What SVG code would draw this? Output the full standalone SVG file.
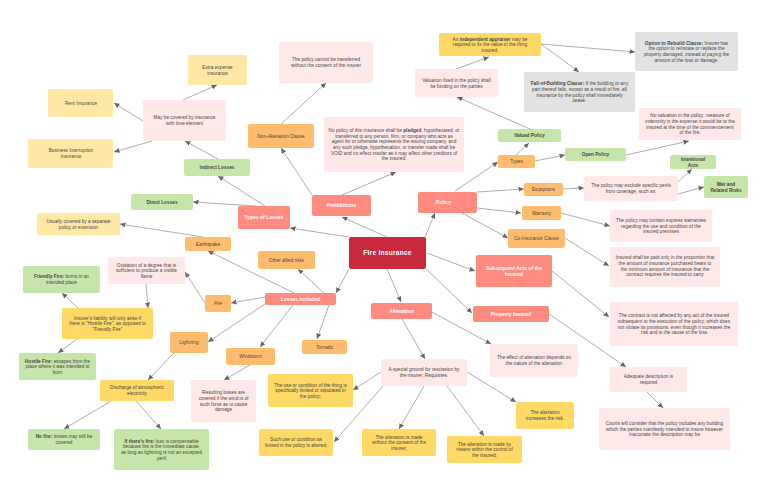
<svg xmlns="http://www.w3.org/2000/svg" width="768" height="502" viewBox="0 0 768 502">
<style>
text{font-family:"Liberation Sans",Arial,sans-serif;font-size:4.7px;fill:#444;text-anchor:middle;letter-spacing:.03px}
.b{font-weight:700}
rect{rx:2px;ry:2px}
.root{fill:#c8293c}.l1{fill:#ff8a80}.or{fill:#ffbc6e}.ye{fill:#ffd966}.py{fill:#ffe8a6}.pk{fill:#ffe8e8}.gr{fill:#c5e6a8}.gy{fill:#e2e2e2}
.w text,text.w{fill:#fff;font-weight:700;font-size:5px}
#connectors line{stroke:#777;stroke-width:.6}
</style>
<defs><marker id="a" markerUnits="userSpaceOnUse" markerWidth="7" markerHeight="6" refX="5.5" refY="2.5" orient="auto"><path d="M0 0L5.5 2.5L0 5z" fill="#666"/></marker></defs>
<rect width="768" height="502" fill="#fff" style="rx:0"/>
<g id="connectors" marker-end="url(#a)">
<line x1="387" y1="237" x2="342" y2="217"/>
<line x1="349" y1="237" x2="290" y2="228"/>
<line x1="425" y1="237" x2="435" y2="213"/>
<line x1="427" y1="253" x2="475" y2="271"/>
<line x1="426" y1="269" x2="472" y2="313"/>
<line x1="387" y1="269" x2="401" y2="302"/>
<line x1="349" y1="269" x2="336" y2="293"/>
<line x1="265" y1="206" x2="218" y2="176"/>
<line x1="256" y1="206" x2="193" y2="202"/>
<line x1="218" y1="159" x2="185" y2="141"/>
<line x1="183" y1="100" x2="217" y2="85"/>
<line x1="143" y1="121" x2="114" y2="103"/>
<line x1="152" y1="141" x2="114" y2="152"/>
<line x1="312" y1="195" x2="281" y2="148"/>
<line x1="281" y1="124" x2="326" y2="83"/>
<line x1="342" y1="195" x2="396" y2="172"/>
<line x1="455" y1="191" x2="498" y2="162"/>
<line x1="516" y1="155" x2="529" y2="143"/>
<line x1="530" y1="129" x2="457" y2="97"/>
<line x1="456" y1="69" x2="489" y2="57"/>
<line x1="541" y1="44" x2="635" y2="52"/>
<line x1="541" y1="44" x2="579" y2="72"/>
<line x1="535" y1="161" x2="565" y2="155"/>
<line x1="626" y1="155" x2="689" y2="141"/>
<line x1="477" y1="192" x2="524" y2="189"/>
<line x1="563" y1="189" x2="584" y2="188"/>
<line x1="678" y1="182" x2="692" y2="169"/>
<line x1="678" y1="194" x2="704" y2="187"/>
<line x1="477" y1="208" x2="521" y2="213"/>
<line x1="561" y1="213" x2="610" y2="226"/>
<line x1="462" y1="213" x2="508" y2="238"/>
<line x1="565" y1="238" x2="609" y2="266"/>
<line x1="552" y1="271" x2="609" y2="317"/>
<line x1="549" y1="314" x2="626" y2="367"/>
<line x1="647" y1="392" x2="663" y2="408"/>
<line x1="432" y1="312" x2="491" y2="344"/>
<line x1="402" y1="319" x2="425" y2="359"/>
<line x1="381" y1="372" x2="353" y2="390"/>
<line x1="383" y1="386" x2="334" y2="442"/>
<line x1="424" y1="386" x2="399" y2="429"/>
<line x1="447" y1="386" x2="484" y2="436"/>
<line x1="467" y1="372" x2="516" y2="402"/>
<line x1="324" y1="293" x2="298" y2="269"/>
<line x1="329" y1="305" x2="317" y2="339"/>
<line x1="293" y1="305" x2="260" y2="347"/>
<line x1="265" y1="304" x2="208" y2="342"/>
<line x1="265" y1="297" x2="231" y2="303"/>
<line x1="294" y1="293" x2="208" y2="251"/>
<line x1="205" y1="303" x2="185" y2="272"/>
<line x1="146" y1="284" x2="148" y2="308"/>
<line x1="203" y1="237" x2="120" y2="224"/>
<line x1="78" y1="308" x2="62" y2="293"/>
<line x1="77" y1="339" x2="58" y2="353"/>
<line x1="174" y1="353" x2="148" y2="380"/>
<line x1="111" y1="401" x2="64" y2="429"/>
<line x1="136" y1="401" x2="161" y2="429"/>
<line x1="250" y1="365" x2="224" y2="380"/>
</g>
<g id="fire-insurance"><rect class="root" x="349" y="237" width="77" height="32"/><text class="w" style="font-size:6.6px;letter-spacing:.25px" x="387.5" y="255.3">Fire Insurance</text></g>
<g id="prohibitions" class="w"><rect class="l1" x="312" y="195" width="59" height="21"/><text x="341.5" y="207.2">Prohibitions</text></g>
<g id="types-of-losses" class="w"><rect class="l1" x="238" y="206" width="52" height="23"/><text x="264" y="219.2">Types of Losses</text></g>
<g id="policy" class="w"><rect class="l1" x="418" y="192" width="59" height="21"/><text x="443.5" y="203.7">Policy</text></g>
<g id="subsequent" class="w"><rect class="l1" x="476" y="255" width="76" height="32"/><text x="514" y="269.8">Subsequent Acts of the<tspan x="514" dy="5.7">Insured</tspan></text></g>
<g id="property" class="w"><rect class="l1" x="473" y="306" width="76" height="16"/><text x="511" y="315.7">Property Insured</text></g>
<g id="alienation" class="w"><rect class="l1" x="371" y="303" width="61" height="16"/><text x="401.5" y="312.7">Alienation</text></g>
<g id="losses-included" class="w"><rect class="l1" x="265" y="293" width="71" height="12"/><text x="300.5" y="300.7">Losses Included</text></g>

<g id="non-alienation"><rect class="or" x="248" y="124" width="66" height="24"/><text x="281" y="137.7">Non-Alienation Clause</text></g>
<g id="types"><rect class="or" x="498" y="155" width="37" height="13"/><text x="516.5" y="163.2">Types</text></g>
<g id="exceptions"><rect class="or" x="524" y="183" width="39" height="13"/><text x="543.5" y="191.2">Exceptions</text></g>
<g id="warranty"><rect class="or" x="522" y="206" width="39" height="14"/><text x="541.5" y="214.7">Warranty</text></g>
<g id="co-insurance"><rect class="or" x="508" y="229" width="57" height="19"/><text x="536.5" y="240.2">Co-Insurance Clause</text></g>
<g id="earthquake"><rect class="or" x="185" y="237" width="46" height="14"/><text x="208" y="245.7">Earthquake</text></g>
<g id="other-allied"><rect class="or" x="258" y="251" width="57" height="18"/><text x="286.5" y="261.7">Other allied risks</text></g>
<g id="fire"><rect class="or" x="205" y="295" width="26" height="17"/><text x="218" y="305.2">Fire</text></g>
<g id="lightning"><rect class="or" x="170" y="332" width="38" height="21"/><text x="189" y="344.2">Lightning</text></g>
<g id="windstorm"><rect class="or" x="226" y="348" width="49" height="17"/><text x="250.5" y="358.2">Windstorm</text></g>
<g id="tornado"><rect class="or" x="302" y="340" width="45" height="14"/><text x="324.5" y="348.7">Tornado</text></g>

<g id="extra-expense"><rect class="py" x="188" y="55" width="59" height="30"/><text x="217.5" y="68.8">Extra expense<tspan x="217.5" dy="5.7">insurance</tspan></text></g>
<g id="rent"><rect class="py" x="48" y="89" width="65" height="28"/><text x="81" y="104.7">Rent Insurance</text></g>
<g id="business"><rect class="py" x="28" y="139" width="85" height="29"/><text x="71" y="152.3">Business Interruption<tspan x="71" dy="5.7">Insurance</tspan></text></g>
<g id="usually"><rect class="py" x="37" y="213" width="83" height="22"/><text x="78.5" y="222.8">Usually covered by a separate<tspan x="78.5" dy="5.7">policy or extension</tspan></text></g>

<g id="may-be-covered"><rect class="pk" x="143" y="100" width="83" height="41"/><text x="184.5" y="119.3">May be covered by insurance<tspan x="184.5" dy="5.7">with time element</tspan></text></g>
<g id="cannot-transfer"><rect class="pk" x="279" y="42" width="94" height="41"/><text x="326" y="61.3">The policy cannot be transferred<tspan x="326" dy="5.7">without the consent of the insurer</tspan></text></g>
<g id="no-policy"><rect class="pk" x="324" y="117" width="140" height="55"/><text x="394" y="131.9">No policy of this insurance shall be <tspan class="b">pledged</tspan>, hypothecated, or<tspan x="394" dy="5.7">transferred to any person, firm, or company who acts as</tspan><tspan x="394" dy="5.7">agent for or otherwise represents the issuing company, and</tspan><tspan x="394" dy="5.7">any such pledge, hypothecation, or transfer made shall be</tspan><tspan x="394" dy="5.7">VOID and no effect insofar as it may affect other creditors of</tspan><tspan x="394" dy="5.7">the insured.</tspan></text></g>
<g id="valuation"><rect class="pk" x="415" y="69" width="83" height="28"/><text x="456.5" y="81.8">Valuation fixed in the policy shall<tspan x="456.5" dy="5.7">be binding on the parties</tspan></text></g>
<g id="no-valuation"><rect class="pk" x="639" y="108" width="102" height="32"/><text x="690" y="117.1">No valuation in the policy; measure of<tspan x="690" dy="5.7">indemnity is the expense it would be to the</tspan><tspan x="690" dy="5.7">insured at the time of the commencement</tspan><tspan x="690" dy="5.7">of the fire.</tspan></text></g>
<g id="may-exclude"><rect class="pk" x="584" y="176" width="94" height="25"/><text x="631" y="187.3">The policy may exclude specific perils<tspan x="631" dy="5.7">from coverage, such as:</tspan></text></g>
<g id="warranties"><rect class="pk" x="610" y="210" width="102" height="32"/><text x="661" y="221.9">The policy may contain express warranties<tspan x="661" dy="5.7">regarding the use and condition of the</tspan><tspan x="661" dy="5.7">insured premises</tspan></text></g>
<g id="insured-paid"><rect class="pk" x="610" y="247" width="110" height="40"/><text x="665" y="259.1">Insured shall be paid only in the proportion that<tspan x="665" dy="5.7">the amount of insurance purchased bears to</tspan><tspan x="665" dy="5.7">the minimum amount of insurance that the</tspan><tspan x="665" dy="5.7">contract requires the insured to carry</tspan></text></g>
<g id="contract"><rect class="pk" x="610" y="302" width="128" height="44"/><text x="674" y="317.1">The contract is not affected by any act of the insured<tspan x="674" dy="5.7">subsequent to the execution of the policy, which does</tspan><tspan x="674" dy="5.7">not violate its provisions, even though it increases the</tspan><tspan x="674" dy="5.7">risk and is the cause of the loss</tspan></text></g>
<g id="adequate"><rect class="pk" x="610" y="367" width="77" height="25"/><text x="648.5" y="378.3">Adequate description is<tspan x="648.5" dy="5.7">required</tspan></text></g>
<g id="courts"><rect class="pk" x="599" y="408" width="131" height="42"/><text x="664.5" y="425">Courts will consider that the policy includes any building<tspan x="664.5" dy="5.7">which the parties manifestly intended to insure however</tspan><tspan x="664.5" dy="5.7">inaccurate the description may be</tspan></text></g>
<g id="effect"><rect class="pk" x="490" y="344" width="88" height="33"/><text x="534" y="359.3">The effect of alienation depends on<tspan x="534" dy="5.7">the nature of the alienation</tspan></text></g>
<g id="special-ground"><rect class="pk" x="381" y="359" width="86" height="27"/><text x="424" y="371.3">A special ground for rescission by<tspan x="424" dy="5.7">the insurer; Requisites:</tspan></text></g>
<g id="oxidation"><rect class="pk" x="108" y="257" width="77" height="27"/><text x="146.5" y="266.5">Oxidation of a degree that is<tspan x="146.5" dy="5.7">sufficient to produce a visible</tspan><tspan x="146.5" dy="5.7">flame</tspan></text></g>
<g id="resulting"><rect class="pk" x="191" y="380" width="65" height="42"/><text x="223.5" y="394.1">Resulting losses are<tspan x="223.5" dy="5.7">covered if the wind is of</tspan><tspan x="223.5" dy="5.7">such force as to cause</tspan><tspan x="223.5" dy="5.7">damage</tspan></text></g>

<g id="appraiser"><rect class="ye" x="439" y="33" width="102" height="23"/><text x="490" y="40.5">An <tspan class="b">independent appraiser</tspan> may be<tspan x="490" dy="5.7">required to fix the value of the thing</tspan><tspan x="490" dy="5.7">insured.</tspan></text></g>
<g id="insurers-liability"><rect class="ye" x="62" y="308" width="91" height="31"/><text x="107.5" y="319.5">Insurer's liability will only arise if<tspan x="107.5" dy="5.7">there is "Hostile Fire", as opposed to</tspan><tspan x="107.5" dy="5.7">"Friendly Fire"</tspan></text></g>
<g id="discharge"><rect class="ye" x="100" y="380" width="74" height="21"/><text x="137" y="389.3">Discharge of atmospheric<tspan x="137" dy="5.7">electricity</tspan></text></g>
<g id="use-condition"><rect class="ye" x="268" y="374" width="85" height="33"/><text x="310.5" y="386.5">The use or condition of the thing is<tspan x="310.5" dy="5.7">specifically limited or stipulated in</tspan><tspan x="310.5" dy="5.7">the policy;</tspan></text></g>
<g id="such-use"><rect class="ye" x="259" y="429" width="74" height="27"/><text x="296" y="441.3">Such use or condition as<tspan x="296" dy="5.7">limited in the policy is altered;</tspan></text></g>
<g id="without-consent"><rect class="ye" x="362" y="429" width="74" height="27"/><text x="399" y="438.5">The alteration is made<tspan x="399" dy="5.7">without the consent of the</tspan><tspan x="399" dy="5.7">insurer;</tspan></text></g>
<g id="means"><rect class="ye" x="447" y="436" width="75" height="27"/><text x="484.5" y="445.5">The alteration is made by<tspan x="484.5" dy="5.7">means within the control of</tspan><tspan x="484.5" dy="5.7">the insured;</tspan></text></g>
<g id="increases"><rect class="ye" x="516" y="402" width="58" height="27"/><text x="545" y="414.3">The alteration<tspan x="545" dy="5.7">increases the risk.</tspan></text></g>

<g id="indirect"><rect class="gr" x="184" y="159" width="66" height="17"/><text class="b" x="217" y="169.2">Indirect Losses</text></g>
<g id="direct"><rect class="gr" x="131" y="194" width="62" height="16"/><text class="b" x="162" y="203.7">Direct Losses</text></g>
<g id="valued"><rect class="gr" x="498" y="129" width="63" height="13"/><text class="b" x="529.5" y="137.2">Valued Policy</text></g>
<g id="open"><rect class="gr" x="565" y="148" width="61" height="13"/><text class="b" x="595.5" y="156.2">Open Policy</text></g>
<g id="intentional"><rect class="gr" x="670" y="155" width="46" height="14"/><text class="b" x="693" y="160.8">Intentional<tspan x="693" dy="5.7">Acts</tspan></text></g>
<g id="war"><rect class="gr" x="704" y="176" width="44" height="22"/><text class="b" x="726" y="185.8">War and<tspan x="726" dy="5.7">Related Risks</tspan></text></g>
<g id="friendly"><rect class="gr" x="23" y="266" width="77" height="27"/><text x="61.5" y="278.3"><tspan class="b">Friendly Fire:</tspan> burns in an<tspan x="61.5" dy="5.7">intended place</tspan></text></g>
<g id="hostile"><rect class="gr" x="19" y="353" width="77" height="27"/><text x="57.5" y="362.5"><tspan class="b">Hostile Fire:</tspan> escapes from the<tspan x="57.5" dy="5.7">place where it was intended to</tspan><tspan x="57.5" dy="5.7">burn</tspan></text></g>
<g id="no-fire"><rect class="gr" x="28" y="429" width="72" height="21"/><text x="64" y="438.3"><tspan class="b">No fire:</tspan> losses may still be<tspan x="64" dy="5.7">covered</tspan></text></g>
<g id="if-fire"><rect class="gr" x="114" y="429" width="95" height="41"/><text x="161.5" y="442.6"><tspan class="b">If there's fire:</tspan> loss is compensable<tspan x="161.5" dy="5.7">because fire is the immediate cause,</tspan><tspan x="161.5" dy="5.7">as long as lightning is not an excepted</tspan><tspan x="161.5" dy="5.7">peril</tspan></text></g>

<g id="option-rebuild"><rect class="gy" x="635" y="32" width="103" height="39"/><text x="686.5" y="44.6"><tspan class="b">Option to Rebuild Clause:</tspan> Insurer has<tspan x="686.5" dy="5.7">the option to reinstate or replace the</tspan><tspan x="686.5" dy="5.7">property damaged, instead of paying the</tspan><tspan x="686.5" dy="5.7">amount of the loss or damage.</tspan></text></g>
<g id="fall-of-building"><rect class="gy" x="524" y="72" width="111" height="40"/><text x="579.5" y="85.1"><tspan class="b">Fall-of-Building Clause:</tspan> If the building or any<tspan x="579.5" dy="5.7">part thereof falls, except as a result of fire, all</tspan><tspan x="579.5" dy="5.7">insurance by the policy shall immediately</tspan><tspan x="579.5" dy="5.7">cease.</tspan></text></g>
</svg>
